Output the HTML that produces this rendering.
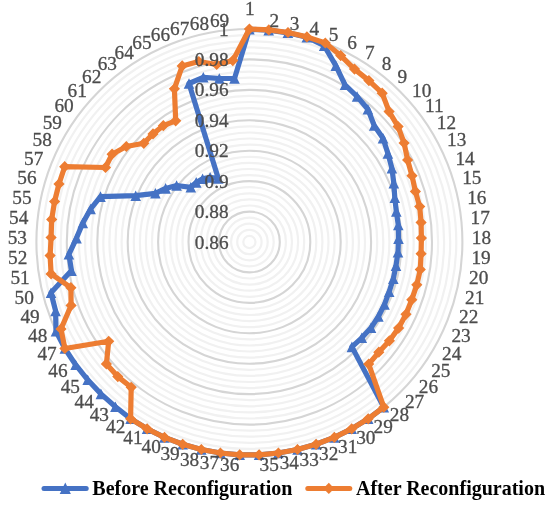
<!DOCTYPE html><html><head><meta charset="utf-8"><title>Radar chart</title><style>html,body{margin:0;padding:0;background:#fff}svg{display:block}</style></head><body><svg width="550" height="507" viewBox="0 0 550 507">
<rect width="550" height="507" fill="#fff"/>
<defs><filter id="soft" x="0" y="0" width="550" height="507" filterUnits="userSpaceOnUse"><feGaussianBlur stdDeviation="0.45"/></filter></defs><g filter="url(#soft)">
<g fill="none" stroke="#f1f1f1" stroke-width="2.2"><circle cx="249.4" cy="242.0" r="6.1"/><circle cx="249.4" cy="242.0" r="12.2"/><circle cx="249.4" cy="242.0" r="18.3"/><circle cx="249.4" cy="242.0" r="24.3"/><circle cx="249.4" cy="242.0" r="36.5"/><circle cx="249.4" cy="242.0" r="42.6"/><circle cx="249.4" cy="242.0" r="48.7"/><circle cx="249.4" cy="242.0" r="54.8"/><circle cx="249.4" cy="242.0" r="66.9"/><circle cx="249.4" cy="242.0" r="73.0"/><circle cx="249.4" cy="242.0" r="79.1"/><circle cx="249.4" cy="242.0" r="85.2"/><circle cx="249.4" cy="242.0" r="97.4"/><circle cx="249.4" cy="242.0" r="103.5"/><circle cx="249.4" cy="242.0" r="109.5"/><circle cx="249.4" cy="242.0" r="115.6"/><circle cx="249.4" cy="242.0" r="127.8"/><circle cx="249.4" cy="242.0" r="133.9"/><circle cx="249.4" cy="242.0" r="140.0"/><circle cx="249.4" cy="242.0" r="146.1"/><circle cx="249.4" cy="242.0" r="158.2"/><circle cx="249.4" cy="242.0" r="164.3"/><circle cx="249.4" cy="242.0" r="170.4"/><circle cx="249.4" cy="242.0" r="176.5"/><circle cx="249.4" cy="242.0" r="188.7"/><circle cx="249.4" cy="242.0" r="194.7"/><circle cx="249.4" cy="242.0" r="200.8"/><circle cx="249.4" cy="242.0" r="206.9"/></g><g fill="none" stroke="#d5d5d5" stroke-width="2.1"><circle cx="249.4" cy="242.0" r="30.4"/><circle cx="249.4" cy="242.0" r="60.9"/><circle cx="249.4" cy="242.0" r="91.3"/><circle cx="249.4" cy="242.0" r="121.7"/><circle cx="249.4" cy="242.0" r="152.1"/><circle cx="249.4" cy="242.0" r="182.6"/><circle cx="249.4" cy="242.0" r="213.0"/></g>
<path d="M249.4 29.3 L268.7 30.2 L287.9 32.8 L306.8 37.2 L324.2 45.7 L335.8 65.6 L345.0 84.8 L357.1 96.5 L367.9 109.2 L374.2 125.5 L383.0 138.2 L387.9 153.4 L391.9 168.2 L393.8 183.1 L394.8 197.7 L396.3 211.5 L398.3 225.0 L398.5 238.6 L398.0 252.2 L396.0 265.6 L393.3 278.8 L389.2 291.7 L384.5 304.4 L378.4 316.5 L371.0 327.8 L361.8 337.8 L351.9 346.9 L383.8 407.2 L368.2 418.8 L351.7 428.8 L334.3 437.4 L316.1 444.3 L297.5 449.5 L278.4 453.0 L259.1 454.8 L239.7 454.8 L220.4 453.0 L201.3 449.5 L182.7 444.3 L164.5 437.4 L147.1 428.8 L130.6 418.8 L115.4 406.8 L100.9 393.9 L87.7 379.8 L75.6 364.7 L64.9 348.5 L56.0 331.3 L55.6 310.9 L51.0 292.7 L71.5 270.6 L68.9 254.3 L76.5 238.1 L82.8 223.0 L90.6 209.0 L100.5 196.6 L135.7 195.7 L155.4 193.3 L165.6 188.4 L176.6 185.5 L190.8 187.3 L196.2 182.4 L202.6 178.8 L210.1 177.4 L218.3 178.5 L189.0 83.5 L203.3 77.3 L219.3 78.5 L234.5 78.4 Z" fill="none" stroke="#4472c4" stroke-width="5.2" stroke-linejoin="round" stroke-linecap="round"/><path d="M249.4 24.0L254.7 34.6L244.1 34.6ZM268.7 24.9L274.0 35.5L263.4 35.5ZM287.9 27.5L293.2 38.1L282.6 38.1ZM306.8 31.9L312.1 42.5L301.5 42.5ZM324.2 40.4L329.5 51.0L318.9 51.0ZM335.8 60.3L341.1 70.9L330.5 70.9ZM345.0 79.5L350.3 90.1L339.7 90.1ZM357.1 91.2L362.4 101.8L351.8 101.8ZM367.9 103.9L373.2 114.5L362.6 114.5ZM374.2 120.2L379.5 130.8L368.9 130.8ZM383.0 132.9L388.3 143.5L377.7 143.5ZM387.9 148.1L393.2 158.7L382.6 158.7ZM391.9 162.9L397.2 173.5L386.6 173.5ZM393.8 177.8L399.1 188.4L388.5 188.4ZM394.8 192.4L400.1 203.0L389.5 203.0ZM396.3 206.2L401.6 216.8L391.0 216.8ZM398.3 219.7L403.6 230.3L393.0 230.3ZM398.5 233.3L403.8 243.9L393.2 243.9ZM398.0 246.9L403.3 257.5L392.7 257.5ZM396.0 260.3L401.3 270.9L390.7 270.9ZM393.3 273.5L398.6 284.1L388.0 284.1ZM389.2 286.4L394.5 297.0L383.9 297.0ZM384.5 299.1L389.8 309.7L379.2 309.7ZM378.4 311.2L383.7 321.8L373.1 321.8ZM371.0 322.5L376.3 333.1L365.7 333.1ZM361.8 332.5L367.1 343.1L356.5 343.1ZM351.9 341.6L357.2 352.2L346.6 352.2ZM383.8 401.9L389.1 412.5L378.5 412.5ZM368.2 413.5L373.5 424.1L362.9 424.1ZM351.7 423.5L357.0 434.1L346.4 434.1ZM334.3 432.1L339.6 442.7L329.0 442.7ZM316.1 439.0L321.4 449.6L310.8 449.6ZM297.5 444.2L302.8 454.8L292.2 454.8ZM278.4 447.7L283.7 458.3L273.1 458.3ZM259.1 449.5L264.4 460.1L253.8 460.1ZM239.7 449.5L245.0 460.1L234.4 460.1ZM220.4 447.7L225.7 458.3L215.1 458.3ZM201.3 444.2L206.6 454.8L196.0 454.8ZM182.7 439.0L188.0 449.6L177.4 449.6ZM164.5 432.1L169.8 442.7L159.2 442.7ZM147.1 423.5L152.4 434.1L141.8 434.1ZM130.6 413.5L135.9 424.1L125.3 424.1ZM115.4 401.5L120.7 412.1L110.1 412.1ZM100.9 388.6L106.2 399.2L95.6 399.2ZM87.7 374.5L93.0 385.1L82.4 385.1ZM75.6 359.4L80.9 370.0L70.3 370.0ZM64.9 343.2L70.2 353.8L59.6 353.8ZM56.0 326.0L61.3 336.6L50.7 336.6ZM55.6 305.6L60.9 316.2L50.3 316.2ZM51.0 287.4L56.3 298.0L45.7 298.0ZM71.5 265.3L76.8 275.9L66.2 275.9ZM68.9 249.0L74.2 259.6L63.6 259.6ZM76.5 232.8L81.8 243.4L71.2 243.4ZM82.8 217.7L88.1 228.3L77.5 228.3ZM90.6 203.7L95.9 214.3L85.3 214.3ZM100.5 191.3L105.8 201.9L95.2 201.9ZM135.7 190.4L141.0 201.0L130.4 201.0ZM155.4 188.0L160.7 198.6L150.1 198.6ZM165.6 183.1L170.9 193.7L160.3 193.7ZM176.6 180.2L181.9 190.8L171.3 190.8ZM190.8 182.0L196.1 192.6L185.5 192.6ZM196.2 177.1L201.5 187.7L190.9 187.7ZM202.6 173.5L207.9 184.1L197.3 184.1ZM210.1 172.1L215.4 182.7L204.8 182.7ZM218.3 173.2L223.6 183.8L213.0 183.8ZM189.0 78.2L194.3 88.8L183.7 88.8ZM203.3 72.0L208.6 82.6L198.0 82.6ZM219.3 73.2L224.6 83.8L214.0 83.8ZM234.5 73.1L239.8 83.7L229.2 83.7Z" fill="#4472c4"/>
<path d="M249.4 29.0 L268.8 29.9 L288.0 32.5 L306.9 36.9 L325.3 43.0 L340.7 55.6 L354.5 69.1 L368.9 80.6 L382.2 93.2 L389.1 111.6 L398.1 126.6 L404.1 143.0 L407.6 160.0 L412.0 175.7 L415.4 191.4 L419.7 206.6 L421.1 222.4 L421.4 238.1 L421.1 253.7 L420.3 269.5 L416.8 284.8 L411.8 299.7 L406.0 314.3 L398.6 328.1 L389.4 340.8 L378.8 352.2 L368.7 364.1 L383.8 407.2 L368.2 418.8 L351.7 428.8 L334.3 437.4 L316.1 444.3 L297.5 449.5 L278.4 453.0 L259.1 454.8 L239.7 454.8 L220.4 453.0 L201.3 449.5 L182.7 444.3 L164.5 437.4 L147.1 428.8 L130.6 418.8 L131.2 387.3 L117.8 376.6 L106.4 363.9 L108.7 341.3 L64.9 348.5 L61.0 329.0 L71.1 305.4 L70.9 287.7 L51.1 273.9 L50.1 255.6 L51.1 237.5 L51.7 219.4 L54.6 201.5 L59.0 184.0 L64.7 166.7 L105.5 167.5 L112.1 154.2 L126.3 146.5 L143.8 143.3 L153.0 133.9 L163.3 125.7 L175.7 120.8 L174.4 88.8 L182.2 65.9 L198.8 61.5 L216.7 64.5 L232.8 60.6 Z" fill="none" stroke="#ed7d31" stroke-width="5.2" stroke-linejoin="round" stroke-linecap="round"/><path d="M249.4 23.4L255.0 29.0L249.4 34.6L243.8 29.0ZM268.8 24.3L274.4 29.9L268.8 35.5L263.2 29.9ZM288.0 26.9L293.6 32.5L288.0 38.1L282.4 32.5ZM306.9 31.3L312.5 36.9L306.9 42.5L301.3 36.9ZM325.3 37.4L330.9 43.0L325.3 48.6L319.7 43.0ZM340.7 50.0L346.3 55.6L340.7 61.2L335.1 55.6ZM354.5 63.5L360.1 69.1L354.5 74.7L348.9 69.1ZM368.9 75.0L374.5 80.6L368.9 86.2L363.3 80.6ZM382.2 87.6L387.8 93.2L382.2 98.8L376.6 93.2ZM389.1 106.0L394.7 111.6L389.1 117.2L383.5 111.6ZM398.1 121.0L403.7 126.6L398.1 132.2L392.5 126.6ZM404.1 137.4L409.7 143.0L404.1 148.6L398.5 143.0ZM407.6 154.4L413.2 160.0L407.6 165.6L402.0 160.0ZM412.0 170.1L417.6 175.7L412.0 181.3L406.4 175.7ZM415.4 185.8L421.0 191.4L415.4 197.0L409.8 191.4ZM419.7 201.0L425.3 206.6L419.7 212.2L414.1 206.6ZM421.1 216.8L426.7 222.4L421.1 228.0L415.5 222.4ZM421.4 232.5L427.0 238.1L421.4 243.7L415.8 238.1ZM421.1 248.1L426.7 253.7L421.1 259.3L415.5 253.7ZM420.3 263.9L425.9 269.5L420.3 275.1L414.7 269.5ZM416.8 279.2L422.4 284.8L416.8 290.4L411.2 284.8ZM411.8 294.1L417.4 299.7L411.8 305.3L406.2 299.7ZM406.0 308.7L411.6 314.3L406.0 319.9L400.4 314.3ZM398.6 322.5L404.2 328.1L398.6 333.7L393.0 328.1ZM389.4 335.2L395.0 340.8L389.4 346.4L383.8 340.8ZM378.8 346.6L384.4 352.2L378.8 357.8L373.2 352.2ZM368.7 358.5L374.3 364.1L368.7 369.7L363.1 364.1ZM383.8 401.6L389.4 407.2L383.8 412.8L378.2 407.2ZM368.2 413.2L373.8 418.8L368.2 424.4L362.6 418.8ZM351.7 423.2L357.3 428.8L351.7 434.4L346.1 428.8ZM334.3 431.8L339.9 437.4L334.3 443.0L328.7 437.4ZM316.1 438.7L321.7 444.3L316.1 449.9L310.5 444.3ZM297.5 443.9L303.1 449.5L297.5 455.1L291.9 449.5ZM278.4 447.4L284.0 453.0L278.4 458.6L272.8 453.0ZM259.1 449.2L264.7 454.8L259.1 460.4L253.5 454.8ZM239.7 449.2L245.3 454.8L239.7 460.4L234.1 454.8ZM220.4 447.4L226.0 453.0L220.4 458.6L214.8 453.0ZM201.3 443.9L206.9 449.5L201.3 455.1L195.7 449.5ZM182.7 438.7L188.3 444.3L182.7 449.9L177.1 444.3ZM164.5 431.8L170.1 437.4L164.5 443.0L158.9 437.4ZM147.1 423.2L152.7 428.8L147.1 434.4L141.5 428.8ZM130.6 413.2L136.2 418.8L130.6 424.4L125.0 418.8ZM131.2 381.7L136.8 387.3L131.2 392.9L125.6 387.3ZM117.8 371.0L123.4 376.6L117.8 382.2L112.2 376.6ZM106.4 358.3L112.0 363.9L106.4 369.5L100.8 363.9ZM108.7 335.7L114.3 341.3L108.7 346.9L103.1 341.3ZM64.9 342.9L70.5 348.5L64.9 354.1L59.3 348.5ZM61.0 323.4L66.6 329.0L61.0 334.6L55.4 329.0ZM71.1 299.8L76.7 305.4L71.1 311.0L65.5 305.4ZM70.9 282.1L76.5 287.7L70.9 293.3L65.3 287.7ZM51.1 268.3L56.7 273.9L51.1 279.5L45.5 273.9ZM50.1 250.0L55.7 255.6L50.1 261.2L44.5 255.6ZM51.1 231.9L56.7 237.5L51.1 243.1L45.5 237.5ZM51.7 213.8L57.3 219.4L51.7 225.0L46.1 219.4ZM54.6 195.9L60.2 201.5L54.6 207.1L49.0 201.5ZM59.0 178.4L64.6 184.0L59.0 189.6L53.4 184.0ZM64.7 161.1L70.3 166.7L64.7 172.3L59.1 166.7ZM105.5 161.9L111.1 167.5L105.5 173.1L99.9 167.5ZM112.1 148.6L117.7 154.2L112.1 159.8L106.5 154.2ZM126.3 140.9L131.9 146.5L126.3 152.1L120.7 146.5ZM143.8 137.7L149.4 143.3L143.8 148.9L138.2 143.3ZM153.0 128.3L158.6 133.9L153.0 139.5L147.4 133.9ZM163.3 120.1L168.9 125.7L163.3 131.3L157.7 125.7ZM175.7 115.2L181.3 120.8L175.7 126.4L170.1 120.8ZM174.4 83.2L180.0 88.8L174.4 94.4L168.8 88.8ZM182.2 60.3L187.8 65.9L182.2 71.5L176.6 65.9ZM198.8 55.9L204.4 61.5L198.8 67.1L193.2 61.5ZM216.7 58.9L222.3 64.5L216.7 70.1L211.1 64.5ZM232.8 55.0L238.4 60.6L232.8 66.2L227.2 60.6Z" fill="#ed7d31"/>
<g font-family="'Liberation Serif', 'Times New Roman', serif" font-size="19.3" fill="#4d4d4d" stroke="#4d4d4d" stroke-width="0.3">
<g text-anchor="end">
<text x="228.6" y="248.5">0.86</text>
<text x="228.6" y="218.1">0.88</text>
<text x="228.6" y="187.6">0.9</text>
<text x="228.6" y="157.2">0.92</text>
<text x="228.6" y="126.8">0.94</text>
<text x="228.6" y="96.4">0.96</text>
<text x="228.6" y="65.9">0.98</text>
<text x="228.6" y="35.5">1</text>
</g>
<text x="249.7" y="15.0" text-anchor="middle">1</text>
<text x="269.6" y="27.2">2</text>
<text x="289.7" y="30.0">3</text>
<text x="309.4" y="34.6">4</text>
<text x="328.7" y="40.9">5</text>
<text x="347.2" y="49.0">6</text>
<text x="365.0" y="58.7">7</text>
<text x="381.8" y="70.0">8</text>
<text x="397.5" y="82.8">9</text>
<text x="412.0" y="96.9">10</text>
<text x="425.1" y="112.3">11</text>
<text x="436.8" y="128.9">12</text>
<text x="447.0" y="146.4">13</text>
<text x="455.4" y="164.8">14</text>
<text x="462.2" y="183.9">15</text>
<text x="467.2" y="203.5">16</text>
<text x="470.5" y="223.5">17</text>
<text x="471.8" y="243.7">18</text>
<text x="471.4" y="264.0">19</text>
<text x="469.1" y="284.1">20</text>
<text x="465.0" y="303.9">21</text>
<text x="459.1" y="323.3">22</text>
<text x="451.4" y="342.1">23</text>
<text x="442.1" y="360.0">24</text>
<text x="431.2" y="377.1">25</text>
<text x="418.8" y="393.1">26</text>
<text x="404.9" y="407.9">27</text>
<text x="389.8" y="421.4">28</text>
<text x="373.5" y="433.4">29</text>
<text x="356.2" y="444.0">30</text>
<text x="338.0" y="452.9">31</text>
<text x="319.1" y="460.1">32</text>
<text x="299.6" y="465.6">33</text>
<text x="279.7" y="469.2">34</text>
<text x="259.5" y="471.1">35</text>
<text x="239.3" y="471.1" text-anchor="end">36</text>
<text x="219.1" y="469.2" text-anchor="end">37</text>
<text x="199.2" y="465.6" text-anchor="end">38</text>
<text x="179.7" y="460.1" text-anchor="end">39</text>
<text x="160.8" y="452.9" text-anchor="end">40</text>
<text x="142.6" y="444.0" text-anchor="end">41</text>
<text x="125.3" y="433.4" text-anchor="end">42</text>
<text x="109.0" y="421.4" text-anchor="end">43</text>
<text x="93.9" y="407.9" text-anchor="end">44</text>
<text x="80.0" y="393.1" text-anchor="end">45</text>
<text x="67.6" y="377.1" text-anchor="end">46</text>
<text x="56.7" y="360.1" text-anchor="end">47</text>
<text x="47.4" y="342.1" text-anchor="end">48</text>
<text x="39.7" y="323.3" text-anchor="end">49</text>
<text x="33.8" y="303.9" text-anchor="end">50</text>
<text x="29.7" y="284.1" text-anchor="end">51</text>
<text x="27.4" y="264.0" text-anchor="end">52</text>
<text x="27.0" y="243.7" text-anchor="end">53</text>
<text x="28.3" y="223.5" text-anchor="end">54</text>
<text x="31.6" y="203.5" text-anchor="end">55</text>
<text x="36.6" y="183.9" text-anchor="end">56</text>
<text x="43.4" y="164.8" text-anchor="end">57</text>
<text x="51.8" y="146.4" text-anchor="end">58</text>
<text x="62.0" y="128.9" text-anchor="end">59</text>
<text x="73.7" y="112.3" text-anchor="end">60</text>
<text x="86.8" y="96.9" text-anchor="end">61</text>
<text x="101.3" y="82.8" text-anchor="end">62</text>
<text x="117.0" y="70.0" text-anchor="end">63</text>
<text x="133.8" y="58.7" text-anchor="end">64</text>
<text x="151.6" y="49.0" text-anchor="end">65</text>
<text x="170.1" y="40.9" text-anchor="end">66</text>
<text x="189.4" y="34.6" text-anchor="end">67</text>
<text x="209.1" y="30.0" text-anchor="end">68</text>
<text x="229.2" y="27.2" text-anchor="end">69</text>
</g>
<g font-family="'Liberation Serif', 'Times New Roman', serif" font-size="20" font-weight="bold" fill="#000">
<path d="M44 488.4 H86.2" stroke="#4472c4" stroke-width="5.0" stroke-linecap="round"/>
<path d="M65.3 482.6L70.9 494.0L59.7 494.0Z" fill="#4472c4"/>
<text x="92.3" y="494.8">Before Reconfiguration</text>
<path d="M307.8 488.4 H349.8" stroke="#ed7d31" stroke-width="5.0" stroke-linecap="round"/>
<path d="M328.8 482.7L334.3 488.4L328.8 494.1L323.3 488.4Z" fill="#ed7d31"/>
<text x="356" y="494.8">After Reconfiguration</text>
</g>
</g></svg></body></html>
